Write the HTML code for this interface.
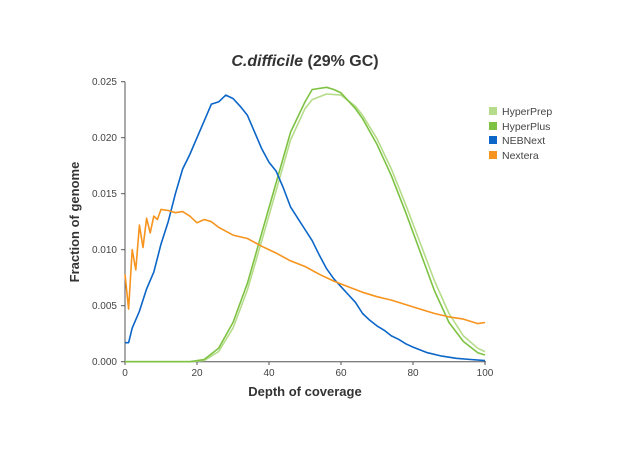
<!DOCTYPE html>
<html><head><meta charset="utf-8"><style>
body{margin:0;background:#fff;}
svg{display:block;font-family:"Liberation Sans",sans-serif;}
</style></head><body>
<svg id="s" width="622" height="457" xmlns="http://www.w3.org/2000/svg">
<text x="305" y="66" text-anchor="middle" font-size="16" font-weight="bold" fill="#333"><tspan font-style="italic">C.difficile</tspan> (29% GC)</text>
<g id="ax" stroke="#555" stroke-width="1" fill="none"></g>
<g id="lbl" font-size="10" fill="#444"></g>
<text transform="translate(79,222) rotate(-90)" text-anchor="middle" font-size="13" font-weight="bold" fill="#333">Fraction of genome</text>
<text x="305" y="396" text-anchor="middle" font-size="13" font-weight="bold" fill="#333">Depth of coverage</text>
<g id="lines" fill="none" stroke-width="1.6" stroke-linejoin="round"></g>
<g font-size="10.5" fill="#444">
<rect x="489" y="107" width="8" height="8" fill="#b5dc8a"/><text x="502" y="115">HyperPrep</text>
<rect x="489" y="122" width="8" height="8" fill="#7dc242"/><text x="502" y="130">HyperPlus</text>
<rect x="489" y="136" width="8" height="8" fill="#0b66c8"/><text x="502" y="144">NEBNext</text>
<rect x="489" y="151" width="8" height="8" fill="#f7941d"/><text x="502" y="159">Nextera</text>
</g>
</svg>
<script>
var X=function(v){return 125+v*3.6},Y=function(v){return 361.7-v*11200};
var ax=document.getElementById('ax'),lb=document.getElementById('lbl'),ns="http://www.w3.org/2000/svg";
function el(p,t,a){var e=document.createElementNS(ns,t);for(var k in a)e.setAttribute(k,a[k]);p.appendChild(e);return e;}
el(ax,'path',{d:'M125,81.7V361.7H486'});
for(var i=0;i<=5;i++){var y=Y(i*0.005);el(ax,'path',{d:'M121,'+y+'H125'});var t=el(lb,'text',{x:117,y:y+3.5,'text-anchor':'end'});t.textContent=(i*0.005).toFixed(3);}
for(var i=0;i<=5;i++){var x=X(i*20);el(ax,'path',{d:'M'+x+',361.7V365'});var t=el(lb,'text',{x:x,y:376,'text-anchor':'middle'});t.textContent=i*20;}
function line(pts,c){var d=pts.map(function(p,i){return (i?'L':'M')+X(p[0]).toFixed(1)+','+Y(p[1]).toFixed(1)}).join('');el(document.getElementById('lines'),'path',{d:d,stroke:c});}
line([[0,0],[18,0],[22,0.0001],[26,0.0009],[30,0.003],[34,0.0064],[38,0.0108],[42,0.0153],[46,0.0198],[50,0.0226],[52,0.0234],[56,0.0239],[60,0.0238],[64,0.0228],[66,0.022],[70,0.0199],[74,0.0172],[78,0.014],[82,0.0106],[86,0.0072],[90,0.0043],[94,0.0023],[98,0.0012],[100,0.0009]],'#b5dc8a');
line([[0,0],[18,0],[22,0.0002],[26,0.0012],[30,0.0035],[34,0.007],[38,0.0115],[42,0.016],[46,0.0205],[50,0.0232],[52,0.0243],[56,0.0245],[58,0.0243],[60,0.024],[64,0.0226],[66,0.0217],[70,0.0194],[74,0.0166],[78,0.0133],[82,0.0098],[86,0.0063],[90,0.0035],[94,0.0018],[98,0.0008],[100,0.0006]],'#7dc242');
line([[0,0.0017],[1,0.0017],[2,0.003],[4,0.0045],[6,0.0065],[8,0.008],[10,0.0105],[12,0.0125],[14,0.015],[16,0.0172],[18,0.0185],[20,0.02],[22,0.0215],[24,0.023],[26,0.0232],[28,0.0238],[30,0.0235],[32,0.0228],[34,0.022],[36,0.0205],[38,0.019],[40,0.0178],[42,0.017],[44,0.0155],[46,0.0138],[48,0.0128],[50,0.0118],[52,0.0108],[54,0.0095],[56,0.0083],[58,0.0074],[60,0.0067],[62,0.006],[64,0.0053],[66,0.0043],[68,0.0037],[70,0.0032],[72,0.0028],[74,0.0023],[76,0.002],[78,0.0016],[80,0.0013],[84,0.0008],[88,0.0005],[92,0.0003],[96,0.0002],[100,0.0001]],'#0b66c8');
line([[0,0.0078],[1,0.0047],[2,0.01],[3,0.0082],[4,0.0122],[5,0.0102],[6,0.0128],[7,0.0115],[8,0.013],[9,0.0127],[10,0.0136],[12,0.0135],[14,0.0133],[16,0.0134],[18,0.013],[20,0.0124],[22,0.0127],[24,0.0125],[26,0.012],[30,0.0113],[34,0.011],[38,0.0103],[42,0.0097],[46,0.009],[50,0.0085],[54,0.0078],[58,0.0072],[62,0.0067],[66,0.0062],[70,0.0058],[74,0.0055],[78,0.0051],[82,0.0047],[86,0.0043],[90,0.004],[94,0.0038],[98,0.0034],[100,0.0035]],'#f7941d');
</script>
</body></html>
